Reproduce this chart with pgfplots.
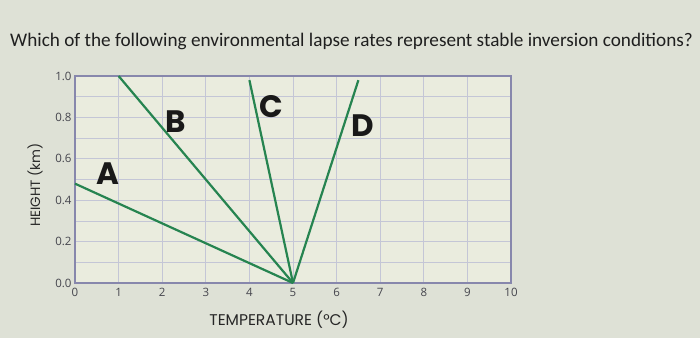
\documentclass[border=0pt]{standalone}
\usepackage{pgfplots}
\pgfplotsset{compat=1.18}
\usepackage{fontspec}
\setmainfont{Carlito}
\newfontfamily\pop{Poppins}
\newfontfamily\tickf{Open Sans}
\definecolor{bg}{RGB}{222,225,214}
\definecolor{plotbg}{RGB}{234,236,222}
\definecolor{gridc}{RGB}{196,198,214}
\definecolor{axc}{RGB}{135,135,172}
\definecolor{lgreen}{RGB}{38,132,80}
\definecolor{tickc}{RGB}{70,70,78}
\begin{document}
\begin{tikzpicture}[x=1pt,y=1pt]
\fill[bg] (0,0) rectangle (700,338);
\useasboundingbox (0,0) rectangle (700,338);
\node[anchor=base west,font=\fontsize{19.2}{22}\selectfont,text=black!88,inner sep=0pt] at (10,291) {Which of the following environmental lapse rates represent stable inversion conditions?};
\begin{axis}[at={(75pt,55pt)}, anchor=south west, width=436pt, height=207pt, scale only axis,
  xmin=0, xmax=10, ymin=0, ymax=1,
  xtick={0,1,...,10}, ytick={0,0.2,0.4,0.6,0.8,1.0},
  minor ytick={0.1,0.3,0.5,0.7,0.9},
  grid=both, major grid style={gridc, line width=0.8pt}, minor grid style={gridc, line width=0.8pt},
  axis line style={axc, line width=1.2pt},
  axis background/.style={fill=plotbg},
  tick style={draw=none},
  ticklabel style={font=\tickf\fontsize{11.5}{13}\selectfont, text=tickc},
  /pgf/number format/assume math mode=true,
  yticklabel style={/pgf/number format/.cd, fixed, fixed zerofill, precision=1},
  xticklabel style={yshift=-2pt},
  clip=false]
\addplot[lgreen, line width=2.2pt] coordinates {(0,0.48) (5,0)};
\addplot[lgreen, line width=2.2pt] coordinates {(1,1.0) (5,0)};
\addplot[lgreen, line width=2.2pt] coordinates {(4,0.98) (5,0)};
\addplot[lgreen, line width=2.2pt] coordinates {(6.5,0.98) (5,0)};
\node[font=\pop\bfseries\fontsize{31}{33}\selectfont, text=black!90] at (axis cs:0.75,0.53) {A};
\node[font=\pop\bfseries\fontsize{31}{33}\selectfont, text=black!90] at (axis cs:2.3,0.78) {B};
\node[font=\pop\bfseries\fontsize{31}{33}\selectfont, text=black!90] at (axis cs:4.5,0.85) {C};
\node[font=\pop\bfseries\fontsize{31}{33}\selectfont, text=black!90] at (axis cs:6.6,0.76) {D};
\end{axis}
\node[rotate=90, font=\pop\fontsize{13.5}{15}\selectfont, text=black!85] at (35,153) {HEIGHT (km)};
\node[font=\pop\fontsize{15.5}{17}\selectfont, text=black!85] at (279,18) {TEMPERATURE (°C)};
\end{tikzpicture}
\end{document}
